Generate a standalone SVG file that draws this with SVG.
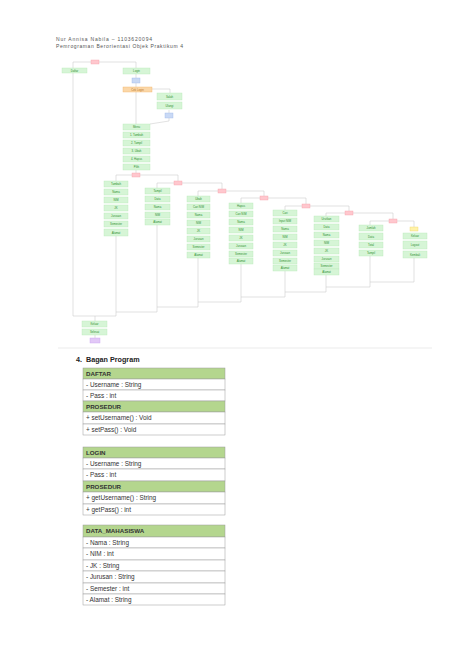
<svg xmlns="http://www.w3.org/2000/svg" width="474" height="670" viewBox="0 0 474 670">
<style>
.hd{font-family:"Liberation Sans",Arial,sans-serif;fill:#555;font-size:5px}
.g rect{fill:#d6f5d6;stroke:#b8e8b8;stroke-width:0.4}
.g text,.gt{font-family:"Liberation Sans",Arial,sans-serif;font-size:2.8px;fill:#2f8f2f;text-anchor:middle}
.r{fill:#ffc7ce;stroke:#f4a0aa;stroke-width:0.4}
.b{fill:#c9d9f5;stroke:#9fb8e8;stroke-width:0.4}
.o{fill:#fbd7a8;stroke:#f2b46a;stroke-width:0.4}
.y{fill:#fff2a8;stroke:#efd86a;stroke-width:0.4}
.p{fill:#e2c8f7;stroke:#c9a0ee;stroke-width:0.4}
.c{fill:none;stroke:#cfcfcf;stroke-width:0.6}
.th{fill:#b4d68e;stroke:#9a9a9a;stroke-width:0.5}
.tr{fill:#ffffff;stroke:#9a9a9a;stroke-width:0.5}
.tt{font-family:"Liberation Sans",Arial,sans-serif;font-size:6.4px;fill:#333}
.tb{font-family:"Liberation Sans",Arial,sans-serif;font-size:6.2px;fill:#333;font-weight:bold}
.ti{font-family:"Liberation Sans",Arial,sans-serif;font-size:7.2px;fill:#222;font-weight:bold}
</style>
<rect width="474" height="670" fill="#ffffff"/>
<text class="hd" x="56" y="41" textLength="96">Nur Annisa Nabila – 1103620094</text>
<text class="hd" x="56" y="48" textLength="127">Pemrograman Berorientasi Objek Praktikum 4</text>

<g id="connectors">
<polyline class="c" points="73,68 73,62 91,62"/>
<polyline class="c" points="99,62 136,62 136,68"/>
<line class="c" x1="136" y1="74" x2="136" y2="78"/>
<line class="c" x1="136" y1="83" x2="136" y2="87"/>
<line class="c" x1="136" y1="92" x2="136" y2="124"/>
<polyline class="c" points="152,89 170,89 170,93"/>
<line class="c" x1="169" y1="110" x2="169" y2="113"/>
<polyline class="c" points="169,118 169,121 150,124"/>
<line class="c" x1="136" y1="170" x2="136" y2="173"/>
<line class="c" x1="73" y1="73" x2="73" y2="316"/>
<polyline class="c" points="132,175 116,175 116,181"/>
<polyline class="c" points="140,175 178,175 178,181"/>
<polyline class="c" points="174,183 157,183 157,188"/>
<polyline class="c" points="182,183 222,183 222,189"/>
<polyline class="c" points="218,191 198,191 198,196"/>
<polyline class="c" points="226,191 264,191 264,196"/>
<polyline class="c" points="260,198 241,198 241,203"/>
<polyline class="c" points="268,198 306,198 306,204"/>
<polyline class="c" points="302,206 285,206 285,210"/>
<polyline class="c" points="310,206 349,206 349,211"/>
<polyline class="c" points="345,213 326,213 326,216"/>
<polyline class="c" points="353,213 393,213 393,219"/>
<polyline class="c" points="389,221 370,221 370,225"/>
<polyline class="c" points="397,221 414,221 414,227"/>
<polyline class="c" points="414,258 414,282 370,282"/>
<polyline class="c" points="370,256 370,287 326,287"/>
<polyline class="c" points="326,275 326,292 285,292"/>
<polyline class="c" points="285,271 285,297 241,297"/>
<polyline class="c" points="241,264 241,302 198,302"/>
<polyline class="c" points="198,258 198,307 157,307"/>
<polyline class="c" points="157,225 157,312 116,312"/>
<polyline class="c" points="116,236 116,316 73,316"/>
<line class="c" x1="95" y1="316" x2="95" y2="321"/>
<line class="c" x1="95" y1="335" x2="95" y2="338"/>
<line x1="58" y1="348" x2="432" y2="348" stroke="#e6e6e6" stroke-width="0.8"/>
</g>

<g id="pilih"><rect class="r" x="91" y="60" width="8" height="4"/></g>
<g id="daftar" class="g"><rect x="62" y="68" width="25" height="5"/><text x="74.5" y="71.5">Daftar</text></g>
<g id="login" class="g"><rect x="123" y="68" width="27" height="6"/><text x="136.5" y="72">Login</text></g>
<g id="input"><rect class="b" x="132" y="78" width="8" height="5"/></g>
<g id="cek"><rect class="o" x="123" y="87" width="29" height="5"/><text class="gt" x="137.5" y="90.5" style="fill:#b8731f">Cek Login</text></g>
<g id="salah" class="g"><rect x="157" y="93" width="25" height="7"/><text x="169.5" y="97.5">Salah</text><rect x="157" y="102" width="25" height="7"/><text x="169.5" y="106.5">Ulangi</text></g>
<g id="ulang"><rect class="b" x="165" y="113" width="8" height="5"/></g>
<g id="menu" class="g">
<rect x="123" y="124" width="27" height="6"/><text x="136.5" y="128">Menu</text>
<rect x="123" y="132" width="27" height="6"/><text x="136.5" y="136">1. Tambah</text>
<rect x="123" y="140" width="27" height="6"/><text x="136.5" y="144">2. Tampil</text>
<rect x="123" y="148" width="27" height="6"/><text x="136.5" y="152">3. Ubah</text>
<rect x="123" y="156" width="27" height="6"/><text x="136.5" y="160">4. Hapus</text>
<rect x="123" y="164" width="27" height="6"/><text x="136.5" y="168">Pilih</text>
</g>
<g id="d1"><rect class="r" x="132" y="173" width="8" height="4"/></g>
<g id="d2"><rect class="r" x="174" y="181" width="8" height="4"/></g>
<g id="d3"><rect class="r" x="218" y="189" width="8" height="4"/></g>
<g id="d4"><rect class="r" x="260" y="196" width="8" height="4"/></g>
<g id="d5"><rect class="r" x="302" y="204" width="8" height="4"/></g>
<g id="d6"><rect class="r" x="345" y="211" width="8" height="4"/></g>
<g id="d7"><rect class="r" x="389" y="219" width="8" height="4"/></g>

<g id="col1" class="g">
<rect x="104" y="181" width="24" height="6"/><text x="116" y="185">Tambah</text>
<rect x="104" y="189" width="24" height="6"/><text x="116" y="193">Nama</text>
<rect x="104" y="197" width="24" height="6"/><text x="116" y="201">NIM</text>
<rect x="104" y="205" width="24" height="6"/><text x="116" y="209">JK</text>
<rect x="104" y="213" width="24" height="6"/><text x="116" y="217">Jurusan</text>
<rect x="104" y="221" width="24" height="6"/><text x="116" y="225">Semester</text>
<rect x="104" y="229" width="24" height="7"/><text x="116" y="233.5">Alamat</text>
</g>
<g id="col2" class="g">
<rect x="145" y="188" width="25" height="6"/><text x="157.5" y="192">Tampil</text>
<rect x="145" y="196" width="25" height="6"/><text x="157.5" y="200">Data</text>
<rect x="145" y="204" width="25" height="6"/><text x="157.5" y="208">Nama</text>
<rect x="145" y="212" width="25" height="6"/><text x="157.5" y="216">NIM</text>
<rect x="145" y="219" width="25" height="6"/><text x="157.5" y="223">Alamat</text>
</g>
<g id="col3" class="g">
<rect x="187" y="196" width="23" height="6"/><text x="198.5" y="200">Ubah</text>
<rect x="187" y="204" width="23" height="6"/><text x="198.5" y="208">Cari NIM</text>
<rect x="187" y="212" width="23" height="6"/><text x="198.5" y="216">Nama</text>
<rect x="187" y="220" width="23" height="6"/><text x="198.5" y="224">NIM</text>
<rect x="187" y="228" width="23" height="6"/><text x="198.5" y="232">JK</text>
<rect x="187" y="236" width="23" height="6"/><text x="198.5" y="240">Jurusan</text>
<rect x="187" y="244" width="23" height="6"/><text x="198.5" y="248">Semester</text>
<rect x="187" y="252" width="23" height="6"/><text x="198.5" y="256">Alamat</text>
</g>
<g id="col4" class="g">
<rect x="229" y="203" width="24" height="6"/><text x="241" y="207">Hapus</text>
<rect x="229" y="211" width="24" height="6"/><text x="241" y="215">Cari NIM</text>
<rect x="229" y="219" width="24" height="6"/><text x="241" y="223">Nama</text>
<rect x="229" y="227" width="24" height="6"/><text x="241" y="231">NIM</text>
<rect x="229" y="235" width="24" height="6"/><text x="241" y="239">JK</text>
<rect x="229" y="243" width="24" height="6"/><text x="241" y="247">Jurusan</text>
<rect x="229" y="251" width="24" height="6"/><text x="241" y="255">Semester</text>
<rect x="229" y="258" width="24" height="6"/><text x="241" y="262">Alamat</text>
</g>
<g id="col5" class="g">
<rect x="273" y="210" width="24" height="6"/><text x="285" y="214">Cari</text>
<rect x="273" y="218" width="24" height="6"/><text x="285" y="222">Input NIM</text>
<rect x="273" y="226" width="24" height="6"/><text x="285" y="230">Nama</text>
<rect x="273" y="234" width="24" height="6"/><text x="285" y="238">NIM</text>
<rect x="273" y="242" width="24" height="6"/><text x="285" y="246">JK</text>
<rect x="273" y="250" width="24" height="6"/><text x="285" y="254">Jurusan</text>
<rect x="273" y="258" width="24" height="6"/><text x="285" y="262">Semester</text>
<rect x="273" y="265" width="24" height="6"/><text x="285" y="269">Alamat</text>
</g>
<g id="col6" class="g">
<rect x="314" y="216" width="25" height="6"/><text x="326.5" y="220">Urutkan</text>
<rect x="314" y="224" width="25" height="6"/><text x="326.5" y="228">Data</text>
<rect x="314" y="232" width="25" height="6"/><text x="326.5" y="236">Nama</text>
<rect x="314" y="240" width="25" height="6"/><text x="326.5" y="244">NIM</text>
<rect x="314" y="248" width="25" height="6"/><text x="326.5" y="252">JK</text>
<rect x="314" y="256" width="25" height="6"/><text x="326.5" y="260">Jurusan</text>
<rect x="314" y="263" width="25" height="6"/><text x="326.5" y="267">Semester</text>
<rect x="314" y="269" width="25" height="6"/><text x="326.5" y="273">Alamat</text>
</g>
<g id="col7" class="g">
<rect x="359" y="225" width="24" height="6"/><text x="371" y="229">Jumlah</text>
<rect x="359" y="233" width="24" height="7"/><text x="371" y="237.5">Data</text>
<rect x="359" y="242" width="24" height="6"/><text x="371" y="246">Total</text>
<rect x="359" y="250" width="24" height="6"/><text x="371" y="254">Tampil</text>
</g>
<g id="col8">
<rect class="y" x="410" y="227" width="8" height="4"/>
<g class="g"><rect x="403" y="233" width="24" height="6"/><text x="415" y="237">Keluar</text><rect x="403" y="241" width="24" height="8"/><text x="415" y="246">Logout</text><rect x="403" y="251" width="24" height="7"/><text x="415" y="255.5">Kembali</text></g>
</g>
<g id="selesai">
<g class="g">
<rect x="82" y="321" width="25" height="6"/><text x="94.5" y="325">Keluar</text>
<rect x="82" y="329" width="25" height="6"/><text x="94.5" y="333">Selesai</text>
</g>
<rect class="p" x="90" y="338" width="10" height="5"/>
</g>

<text class="ti" x="76" y="362">4.</text>
<text class="ti" x="86" y="362">Bagan Program</text>

<g id="tabel-daftar">
<rect class="th" x="83" y="368" width="142" height="11"/><text class="tb" x="86" y="376">DAFTAR</text>
<rect class="tr" x="83" y="379" width="142" height="11"/><text class="tt" x="86" y="387">- Username : String</text>
<rect class="tr" x="83" y="390" width="142" height="11"/><text class="tt" x="86" y="398">- Pass : int</text>
<rect class="th" x="83" y="401" width="142" height="11"/><text class="tb" x="86" y="409">PROSEDUR</text>
<rect class="tr" x="83" y="412" width="142" height="12"/><text class="tt" x="86" y="420">+ setUsername() : Void</text>
<rect class="tr" x="83" y="424" width="142" height="11"/><text class="tt" x="86" y="432">+ setPass() : Void</text>
</g>
<g id="tabel-login">
<rect class="th" x="83" y="447" width="142" height="11"/><text class="tb" x="86" y="455">LOGIN</text>
<rect class="tr" x="83" y="458" width="142" height="11"/><text class="tt" x="86" y="466">- Username : String</text>
<rect class="tr" x="83" y="469" width="142" height="12"/><text class="tt" x="86" y="477">- Pass : int</text>
<rect class="th" x="83" y="481" width="142" height="11"/><text class="tb" x="86" y="489">PROSEDUR</text>
<rect class="tr" x="83" y="492" width="142" height="12"/><text class="tt" x="86" y="500">+ getUsername() : String</text>
<rect class="tr" x="83" y="504" width="142" height="11"/><text class="tt" x="86" y="512">+ getPass() : int</text>
</g>
<g id="tabel-mahasiswa">
<rect class="th" x="83" y="525" width="142" height="12"/><text class="tb" x="86" y="533">DATA_MAHASISWA</text>
<rect class="tr" x="83" y="537" width="142" height="11"/><text class="tt" x="86" y="545">- Nama : String</text>
<rect class="tr" x="83" y="548" width="142" height="12"/><text class="tt" x="86" y="556">- NIM : int</text>
<rect class="tr" x="83" y="560" width="142" height="11"/><text class="tt" x="86" y="568">- JK : String</text>
<rect class="tr" x="83" y="571" width="142" height="12"/><text class="tt" x="86" y="579">- Jurusan : String</text>
<rect class="tr" x="83" y="583" width="142" height="11"/><text class="tt" x="86" y="591">- Semester : int</text>
<rect class="tr" x="83" y="594" width="142" height="11"/><text class="tt" x="86" y="602">- Alamat : String</text>
</g>
</svg>
